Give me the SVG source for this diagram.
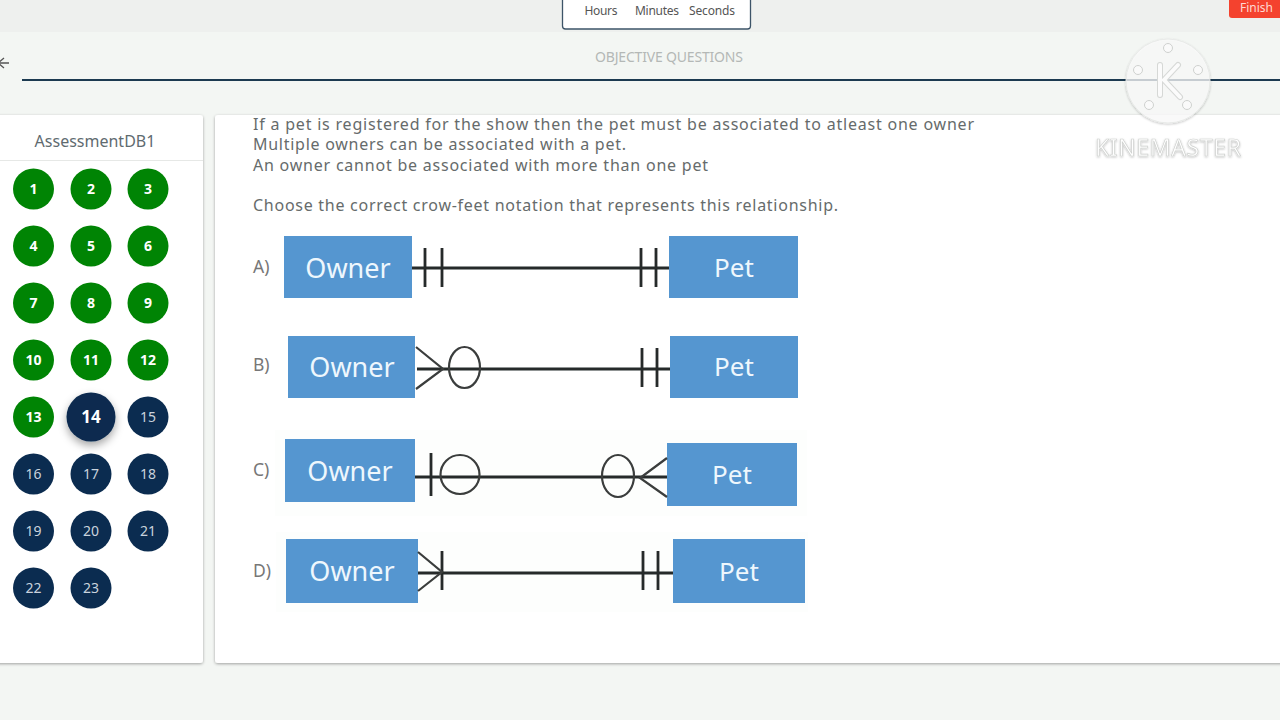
<svg xmlns="http://www.w3.org/2000/svg" width="1280" height="720" viewBox="0 0 1280 720">
<defs>
<filter id="shadow" x="-10%" y="-10%" width="120%" height="120%"><feDropShadow dx="0" dy="1" stdDeviation="1.500" flood-color="#000" flood-opacity="0.35"/></filter>
<filter id="cshadow" x="-40%" y="-40%" width="180%" height="190%"><feDropShadow dx="0" dy="4" stdDeviation="4" flood-color="#000" flood-opacity="0.35"/></filter>
<filter id="wm" x="-10%" y="-10%" width="120%" height="130%"><feDropShadow dx="0" dy="1" stdDeviation="0.800" flood-color="#000" flood-opacity="0.25"/></filter>
<filter id="soft" x="-2%" y="-2%" width="104%" height="104%"><feGaussianBlur stdDeviation="0.400"/></filter>
</defs>
<style>
text{font-family:"Noto Sans","Open Sans","Liberation Sans",sans-serif}
.q{font-size:16px;fill:#666b6b}
.opt{font-size:17.500px;fill:#777}
.ent{fill:#5596d0}
.lbl{fill:#eef7fd;text-anchor:middle}
.own{font-size:27px}
.pet{font-size:26px}
.ln{stroke:#262a29;stroke-width:2.800;fill:none}
.thin{stroke:#3a3d3c;stroke-width:2.200;fill:none}
.g{fill:#008404}
.gt{fill:#fff;font-size:14px;font-weight:700;text-anchor:middle}
.d{fill:#0b2c50}
.dt{fill:#c9d3dd;font-size:14px;text-anchor:middle}
.t{font-size:12px;fill:#555;text-anchor:middle}
.dot{fill:#fafafa;stroke:#cfd1cf}
</style>
<rect width="1280" height="720" fill="#f3f6f3"/>
<rect width="1280" height="32" fill="#eef0ee"/>
<g id="timer"><rect x="562.500" y="-6" width="188" height="35" rx="3" fill="#fff" stroke="#3d5468" stroke-width="1.300"/>
<text class="t" x="601" y="15" textLength="33">Hours</text><text class="t" x="657" y="15" textLength="44">Minutes</text><text class="t" x="712" y="15" textLength="46">Seconds</text></g>
<g id="finish"><rect x="1229" y="-6" width="60" height="24" rx="3" fill="#f4422e"/><text x="1240" y="12" font-size="12" fill="#ffd9d2">Finish</text></g>
<g id="header"><text x="669" y="62" font-size="14" fill="#b4b8b6" text-anchor="middle" textLength="148">OBJECTIVE QUESTIONS</text>
<path d="M-2 63H9M-2 63L4 58M-2 63L4 68" stroke="#555" stroke-width="1.300" fill="none"/>
<rect x="22" y="79" width="1258" height="2" fill="#1c3a50"/></g>
<g id="sidebar"><rect x="-10" y="115" width="213" height="548" rx="3" fill="#fff" filter="url(#shadow)"/>
<text x="95" y="147" font-size="16" fill="#5f6b70" text-anchor="middle">AssessmentDB1</text>
<rect x="0" y="160" width="203" height="1" fill="#e6e8e6"/></g>
<g id="panel"><rect x="215" y="115" width="1080" height="548" rx="3" fill="#fff" filter="url(#shadow)"/></g>
<g id="nav-1"><circle class="g" cx="33.500" cy="189" r="20.500"/><text class="gt" x="33.500" y="194">1</text></g>
<g id="nav-2"><circle class="g" cx="91" cy="189" r="20.500"/><text class="gt" x="91" y="194">2</text></g>
<g id="nav-3"><circle class="g" cx="148" cy="189" r="20.500"/><text class="gt" x="148" y="194">3</text></g>
<g id="nav-4"><circle class="g" cx="33.500" cy="246" r="20.500"/><text class="gt" x="33.500" y="251">4</text></g>
<g id="nav-5"><circle class="g" cx="91" cy="246" r="20.500"/><text class="gt" x="91" y="251">5</text></g>
<g id="nav-6"><circle class="g" cx="148" cy="246" r="20.500"/><text class="gt" x="148" y="251">6</text></g>
<g id="nav-7"><circle class="g" cx="33.500" cy="303" r="20.500"/><text class="gt" x="33.500" y="308">7</text></g>
<g id="nav-8"><circle class="g" cx="91" cy="303" r="20.500"/><text class="gt" x="91" y="308">8</text></g>
<g id="nav-9"><circle class="g" cx="148" cy="303" r="20.500"/><text class="gt" x="148" y="308">9</text></g>
<g id="nav-10"><circle class="g" cx="33.500" cy="360" r="20.500"/><text class="gt" x="33.500" y="365">10</text></g>
<g id="nav-11"><circle class="g" cx="91" cy="360" r="20.500"/><text class="gt" x="91" y="365">11</text></g>
<g id="nav-12"><circle class="g" cx="148" cy="360" r="20.500"/><text class="gt" x="148" y="365">12</text></g>
<g id="nav-13"><circle class="g" cx="33.500" cy="417" r="20.500"/><text class="gt" x="33.500" y="422">13</text></g>
<g id="nav-14"><circle class="d" cx="91" cy="417" r="24.500" filter="url(#cshadow)"/><text x="91" y="423" font-size="17" font-weight="700" fill="#fff" text-anchor="middle">14</text></g>
<g id="nav-15"><circle class="d" cx="148" cy="417" r="20.500"/><text class="dt" x="148" y="422">15</text></g>
<g id="nav-16"><circle class="d" cx="33.500" cy="474" r="20.500"/><text class="dt" x="33.500" y="479">16</text></g>
<g id="nav-17"><circle class="d" cx="91" cy="474" r="20.500"/><text class="dt" x="91" y="479">17</text></g>
<g id="nav-18"><circle class="d" cx="148" cy="474" r="20.500"/><text class="dt" x="148" y="479">18</text></g>
<g id="nav-19"><circle class="d" cx="33.500" cy="531" r="20.500"/><text class="dt" x="33.500" y="536">19</text></g>
<g id="nav-20"><circle class="d" cx="91" cy="531" r="20.500"/><text class="dt" x="91" y="536">20</text></g>
<g id="nav-21"><circle class="d" cx="148" cy="531" r="20.500"/><text class="dt" x="148" y="536">21</text></g>
<g id="nav-22"><circle class="d" cx="33.500" cy="588" r="20.500"/><text class="dt" x="33.500" y="593">22</text></g>
<g id="nav-23"><circle class="d" cx="91" cy="588" r="20.500"/><text class="dt" x="91" y="593">23</text></g>
<g id="question">
<text class="q" x="253" y="130" textLength="721">If a pet is registered for the show then the pet must be associated to atleast one owner</text>
<text class="q" x="253" y="150" textLength="373">Multiple owners can be associated with a pet.</text>
<text class="q" x="253" y="171" textLength="455">An owner cannot be associated with more than one pet</text>
<text class="q" x="253" y="211" textLength="585">Choose the correct crow-feet notation that represents this relationship.</text>
<text class="opt" x="253" y="273">A)</text><text class="opt" x="253" y="371">B)</text><text class="opt" x="253" y="476">C)</text><text class="opt" x="253" y="577">D)</text>
</g>
<rect x="275" y="430" width="532" height="86" fill="#fdfefd"/>
<rect x="276" y="532" width="532" height="80" fill="#fdfefd"/>
<g id="a-owner"><rect class="ent" x="284" y="236" width="128" height="62"/><text class="lbl own" x="348" y="278">Owner</text></g>
<g id="a-pet"><rect class="ent" x="669" y="236" width="129" height="62"/><text class="lbl pet" x="734" y="277">Pet</text></g>
<g id="b-owner"><rect class="ent" x="288" y="336" width="127" height="62"/><text class="lbl own" x="352" y="377">Owner</text></g>
<g id="b-pet"><rect class="ent" x="670" y="336" width="128" height="62"/><text class="lbl pet" x="734" y="376">Pet</text></g>
<g id="c-owner"><rect class="ent" x="285" y="439" width="130" height="63"/><text class="lbl own" x="350" y="481">Owner</text></g>
<g id="c-pet"><rect class="ent" x="667" y="443" width="130" height="63"/><text class="lbl pet" x="732" y="484">Pet</text></g>
<g id="d-owner"><rect class="ent" x="286" y="539" width="132" height="64"/><text class="lbl own" x="352" y="581">Owner</text></g>
<g id="d-pet"><rect class="ent" x="673" y="539" width="132" height="64"/><text class="lbl pet" x="739" y="581">Pet</text></g>
<g id="connectors" filter="url(#soft)">
<path class="ln" d="M412 268H669M425 248V287M442 248V287M641 248V287M656 248V287"/>
<path class="ln" d="M417 369H670M642 348V387M657 348V387"/>
<path class="thin" d="M416 347L443 369L416 389"/>
<ellipse class="thin" cx="464.500" cy="367.500" rx="15.500" ry="20.500"/>
<path class="ln" d="M415 477H667M431 453V496"/>
<circle class="thin" cx="460" cy="474.500" r="19.500"/>
<ellipse class="thin" cx="618" cy="476" rx="16" ry="21"/>
<path class="thin" d="M667 458L640 478L667 497"/>
<path class="ln" d="M418 573H673M442 551V590M643 551V590M658 551V590"/>
<path class="thin" d="M418 552L442 572L418 591"/>
</g>
<g id="watermark" filter="url(#wm)">
<circle cx="1168" cy="81" r="42" fill="#fff" fill-opacity="0.72" stroke="#e8eae8" stroke-width="1"/>
<circle class="dot" cx="1168" cy="48" r="4.500"/><circle class="dot" cx="1138" cy="70" r="4.500"/><circle class="dot" cx="1198" cy="70" r="4.500"/><circle class="dot" cx="1149" cy="105" r="4.500"/><circle class="dot" cx="1187" cy="105" r="4.500"/>
<path d="M1160 65V95M1178 65L1164 80L1180 97" fill="none" stroke="#d6d8d6" stroke-width="6" stroke-linecap="round"/>
<path d="M1160 65V95M1178 65L1164 80L1180 97" fill="none" stroke="#fbfbfb" stroke-width="4" stroke-linecap="round"/>
<text x="1168" y="156" font-size="23" fill="#fff" stroke="#cfd1cf" stroke-width="0.700" text-anchor="middle" textLength="146">KINEMASTER</text>
</g>
</svg>
